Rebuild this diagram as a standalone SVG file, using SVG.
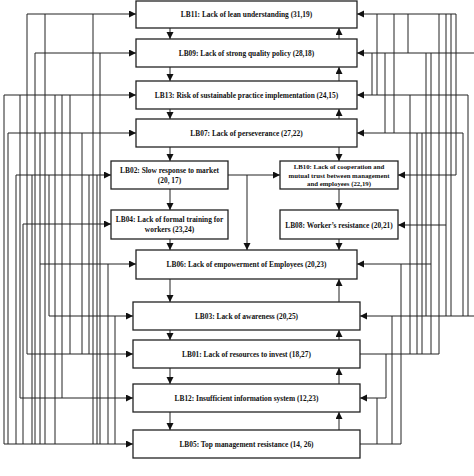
<svg xmlns="http://www.w3.org/2000/svg" width="474" height="476" viewBox="0 0 474 476">
<defs>
<marker id="ah" markerUnits="userSpaceOnUse" markerWidth="8" markerHeight="8" refX="7" refY="3.5" orient="auto">
<path d="M0,0 L7,3.5 L0,7 z" fill="#111"/>
</marker>
<style>
.box{fill:#fff;stroke:#222;stroke-width:1.3}
.t{font-family:"Liberation Serif","Times New Roman",serif;font-weight:bold;font-size:7.4px;fill:#111;text-anchor:middle}
.s{font-size:6.8px}
.ln{fill:none;stroke:#222;stroke-width:1}
.ar{fill:none;stroke:#222;stroke-width:1;marker-end:url(#ah)}
</style>
</defs>
<rect width="474" height="476" fill="#fff"/>
<g id="connectors">
<line class="ar" x1="170" y1="28" x2="170" y2="39"/>
<line class="ar" x1="170" y1="67" x2="170" y2="81"/>
<line class="ar" x1="170" y1="109" x2="170" y2="119"/>
<line class="ar" x1="170" y1="147" x2="170" y2="161"/>
<line class="ar" x1="170" y1="189" x2="170" y2="210"/>
<line class="ar" x1="170" y1="239" x2="170" y2="250"/>
<line class="ar" x1="170" y1="279" x2="170" y2="302"/>
<line class="ar" x1="170" y1="330" x2="170" y2="340"/>
<line class="ar" x1="170" y1="368" x2="170" y2="384"/>
<line class="ar" x1="170" y1="412" x2="170" y2="430"/>
<line class="ar" x1="339" y1="39" x2="339" y2="28"/>
<line class="ar" x1="339" y1="81" x2="339" y2="67"/>
<line class="ar" x1="339" y1="119" x2="339" y2="109"/>
<line class="ar" x1="339" y1="147" x2="339" y2="161"/>
<line class="ar" x1="339" y1="189" x2="339" y2="210"/>
<line class="ar" x1="339" y1="239" x2="339" y2="250"/>
<line class="ar" x1="339" y1="302" x2="339" y2="279"/>
<line class="ar" x1="339" y1="340" x2="339" y2="330"/>
<line class="ar" x1="339" y1="384" x2="339" y2="368"/>
<line class="ar" x1="339" y1="430" x2="339" y2="412"/>
<line class="ar" x1="228" y1="175" x2="280" y2="175"/>
<path class="ar" d="M247,175V250"/>
<!-- left horizontals -->
<path class="ar" d="M27,14H136"/>
<path class="ar" d="M35,53H136"/>
<path class="ar" d="M4,95H136"/>
<path class="ar" d="M8,133H136"/>
<path class="ar" d="M16,175H111"/>
<path class="ar" d="M23,224H111"/>
<path class="ar" d="M40,264H136"/>
<path class="ar" d="M49,316H133"/>
<path class="ar" d="M27,354H133"/>
<path class="ar" d="M20,398H133"/>
<path class="ar" d="M4,444H133"/>
<!-- left verticals -->
<path class="ln" d="M4,95V444M8,133V444M16,175V444M20,95V398M23,224V444M27,14V354M32,175V444M35,53V444M40,133V444M45,14V444M49,175V316M55,95V444M62,95V398M70,95V354M82,133V354M89,175V354M93,14V444M97,175V444M100,53V444M108,264V444M115,316V444"/>
<!-- right horizontals -->
<path class="ar" d="M456,14H357"/>
<path class="ar" d="M474,53H357"/>
<path class="ar" d="M468,95H357"/>
<path class="ar" d="M463,133H357"/>
<path class="ar" d="M456,175H398"/>
<path class="ar" d="M446,225H398"/>
<path class="ar" d="M431,264H357"/>
<path class="ar" d="M474,316H360"/>
<path class="ln" d="M360,354H439"/>
<path class="ar" d="M386,398H360"/>
<path class="ln" d="M360,444H401"/>
<!-- right verticals -->
<path class="ln" d="M372,53V95M377,14V95M377,398V444M385,53V133M386,354V398M392,316V444M394,14V133M401,264V444M408,14V53M410,95V354M417,133V354M422,133V354M426,53V316M431,53V354M439,14V354M446,14V316M451,14V316M456,14V175M463,133V316M468,95V316"/>
</g>
<g id="LB11"><rect class="box" x="136" y="1" width="221" height="27"/><text class="t" x="246.5" y="17">LB11: Lack of lean understanding (31,19)</text></g>
<g id="LB09"><rect class="box" x="136" y="39" width="221" height="28"/><text class="t" x="246.5" y="56">LB09: Lack of strong quality policy (28,18)</text></g>
<g id="LB13"><rect class="box" x="136" y="81" width="221" height="28"/><text class="t" x="246.5" y="98">LB13: Risk of sustainable practice implementation (24,15)</text></g>
<g id="LB07"><rect class="box" x="136" y="119" width="221" height="28"/><text class="t" x="246.5" y="136">LB07: Lack of perseverance (27,22)</text></g>
<g id="LB02"><rect class="box" x="111" y="161" width="117" height="28"/><text class="t" x="169.5" y="173">LB02: Slow response to market</text><text class="t" x="169.5" y="182.5">(20, 17)</text></g>
<g id="LB10"><rect class="box" x="280" y="161" width="118" height="28"/><text class="t s" x="339" y="169">LB10: Lack of cooperation and</text><text class="t s" x="339" y="177.5">mutual trust between management</text><text class="t s" x="339" y="186">and employees (22,19)</text></g>
<g id="LB04"><rect class="box" x="111" y="210" width="117" height="29"/><text class="t" x="169.5" y="222">LB04: Lack of formal training for</text><text class="t" x="169.5" y="232">workers (23,24)</text></g>
<g id="LB08"><rect class="box" x="280" y="210" width="118" height="29"/><text class="t" x="339" y="227.5">LB08: Worker’s resistance (20,21)</text></g>
<g id="LB06"><rect class="box" x="136" y="250" width="221" height="29"/><text class="t" x="246.5" y="267">LB06: Lack of empowerment of Employees (20,23)</text></g>
<g id="LB03"><rect class="box" x="133" y="302" width="227" height="28"/><text class="t" x="246.5" y="319">LB03: Lack of awareness (20,25)</text></g>
<g id="LB01"><rect class="box" x="133" y="340" width="227" height="28"/><text class="t" x="246.5" y="357">LB01: Lack of resources to invest (18,27)</text></g>
<g id="LB12"><rect class="box" x="133" y="384" width="227" height="28"/><text class="t" x="246.5" y="401">LB12: Insufficient information system (12,23)</text></g>
<g id="LB05"><rect class="box" x="133" y="430" width="227" height="28"/><text class="t" x="246.5" y="447">LB05: Top management resistance (14, 26)</text></g>
</svg>
